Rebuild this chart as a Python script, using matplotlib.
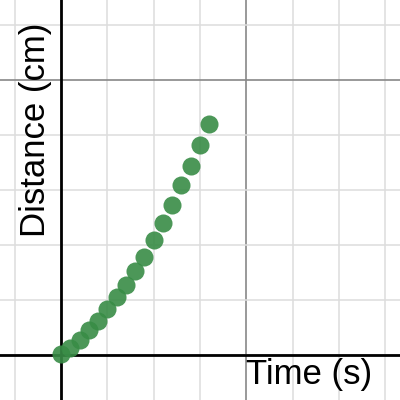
import numpy as np
import matplotlib.pyplot as plt

# time (s) and distance (cm)
time_s = [0, 0.2, 0.4, 0.6, 0.8, 1.0, 1.2, 1.4, 1.6, 1.8, 2.0, 2.2, 2.4, 2.6, 2.8, 3.0, 3.2]
dist_cm = [0.02, 0.13, 0.27, 0.45, 0.62, 0.84, 1.05, 1.27, 1.53, 1.78, 2.09, 2.40, 2.73, 3.09, 3.44, 3.82, 4.2]

plt.rcParams['font.family'] = ['Liberation Sans', 'DejaVu Sans']
fig = plt.figure(figsize=(4, 4), dpi=100)
ax = fig.add_axes([0, 0, 1, 1])
ax.set_xlim(-1.32, 7.32)
ax.set_ylim(-0.82, 6.45)

for x in range(-1, 8):
    ax.axvline(x, color='#888888' if x == 4 else '#dddddd', lw=1.2 if x == 4 else 1.1, zorder=0)
for y in range(-0, 7):
    ax.axhline(y, color='#888888' if y == 5 else '#dddddd', lw=1.2 if y == 5 else 1.1, zorder=0)
ax.axvline(0, color='black', lw=2, zorder=1)
ax.axhline(0, color='black', lw=2, zorder=1)

ax.plot(time_s, dist_cm, 'o', color='#388c46', alpha=0.9, ms=13, mec='none', zorder=3)

ax.text(4.0, -0.05, 'Time (s)', fontsize=25, ha='left', va='top')
ax.text(-0.2, 4.09, 'Distance (cm)', fontsize=25, rotation=90, ha='right', va='center')
ax.axis('off')
fig.savefig('out.png')
